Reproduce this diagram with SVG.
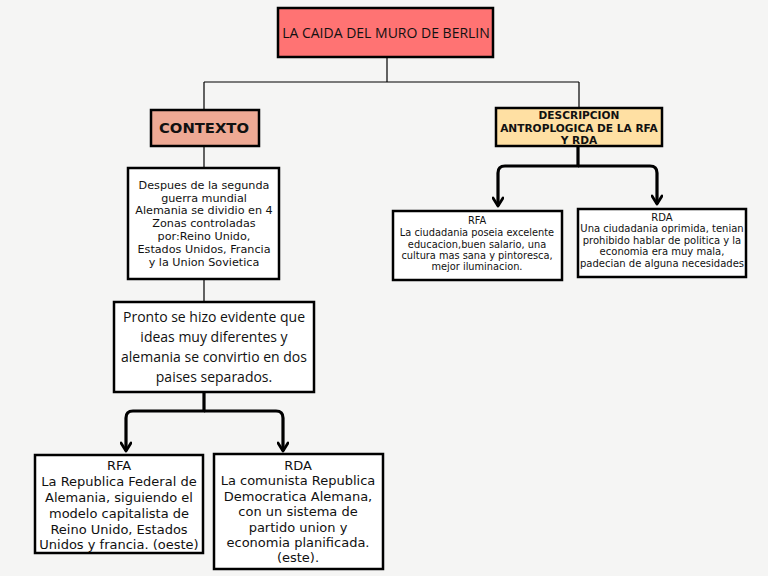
<svg xmlns="http://www.w3.org/2000/svg" width="768" height="576" viewBox="0 0 768 576">
<style>
.box{stroke:#000;stroke-width:2.5}
.thin{fill:none;stroke:#000;stroke-width:1.2}
.thick{fill:none;stroke:#000;stroke-width:3.2;stroke-linejoin:round}
.m{font-family:"DejaVu Sans","Liberation Sans",sans-serif;fill:#111;text-anchor:middle}
.o{font-family:"Open Sans","Liberation Sans",sans-serif;fill:#111;text-anchor:middle}
</style>
<defs>
<marker id="chev" viewBox="0 0 12 12" refX="10" refY="6" markerWidth="12" markerHeight="12" markerUnits="userSpaceOnUse" orient="auto">
<path d="M2,1 L10,6 L2,11" fill="none" stroke="#000" stroke-width="2.8" stroke-linecap="round" stroke-linejoin="round"/>
</marker>
</defs>
<rect width="768" height="576" fill="#f5f5f4"/>
<g id="connectors">
<path class="thin" d="M387,57 V82 M204,82 H579 M204,82 V109 M579,82 V107 M204,146 V168 M204,279 V302"/>
<path class="thick" d="M204,392 V411 H133 Q126,411 126,418 V451" marker-end="url(#chev)"/>
<path class="thick" d="M204,411 H276 Q283,411 283,418 V451" marker-end="url(#chev)"/>
<path class="thick" d="M578,146 V166 H505 Q498,166 498,173 V206" marker-end="url(#chev)"/>
<path class="thick" d="M578,166 H650 Q657,166 657,173 V204" marker-end="url(#chev)"/>
</g>
<g id="title">
<rect class="box" x="278" y="8" width="215" height="49" fill="#ff7373"/>
<text class="o" x="386" y="38" font-size="14">LA CAIDA DEL MURO DE BERLIN</text>
</g>
<g id="contexto">
<rect class="box" x="151" y="110" width="108" height="36" fill="#eea994"/>
<text class="m" x="204" y="133" font-size="14.8" font-weight="bold">CONTEXTO</text>
</g>
<g id="contexto-texto">
<rect class="box" x="128" y="168" width="151" height="111" fill="#fff"/>
<g class="m" font-size="11.2">
<text x="204" y="189">Despues de la segunda</text>
<text x="204" y="202">guerra mundial</text>
<text x="204" y="214">Alemania se dividio en 4</text>
<text x="204" y="227">Zonas controladas</text>
<text x="204" y="240">por:Reino Unido,</text>
<text x="204" y="253">Estados Unidos, Francia</text>
<text x="204" y="266">y la Union Sovietica</text>
</g>
</g>
<g id="pronto">
<rect class="box" x="114" y="302" width="200" height="90" fill="#fff"/>
<g class="o" font-size="14">
<text x="214" y="322">Pronto se hizo evidente que</text>
<text x="214" y="342">ideas muy diferentes y</text>
<text x="214" y="362">alemania se convirtio en dos</text>
<text x="214" y="382">paises separados.</text>
</g>
</g>
<g id="rfa-oeste">
<rect class="box" x="35" y="455" width="168" height="98" fill="#fff"/>
<g class="m" font-size="13">
<text x="119" y="470">RFA</text>
<text x="119" y="486">La Republica Federal de</text>
<text x="119" y="502">Alemania, siguiendo el</text>
<text x="119" y="518">modelo capitalista de</text>
<text x="119" y="534">Reino Unido, Estados</text>
<text x="119" y="549">Unidos  y francia. (oeste)</text>
</g>
</g>
<g id="rda-este">
<rect class="box" x="214" y="454" width="169" height="115" fill="#fff"/>
<g class="m" font-size="13">
<text x="298" y="470">RDA</text>
<text x="298" y="485">La comunista Republica</text>
<text x="298" y="501">Democratica Alemana,</text>
<text x="298" y="516">con un sistema de</text>
<text x="298" y="532">partido union y</text>
<text x="298" y="547">economia planificada.</text>
<text x="298" y="562">(este).</text>
</g>
</g>
<g id="descripcion">
<rect class="box" x="496" y="108" width="166" height="38" fill="#ffe0a3"/>
<g class="m" font-size="10.6" font-weight="bold">
<text x="579" y="119">DESCRIPCION</text>
<text x="579" y="132">ANTROPLOGICA DE LA RFA</text>
<text x="579" y="144">Y RDA</text>
</g>
</g>
<g id="rfa-desc">
<rect class="box" x="393" y="211" width="169" height="69" fill="#fff"/>
<g class="m" font-size="9.8">
<text x="477" y="224">RFA</text>
<text x="477" y="236">La ciudadania poseia excelente</text>
<text x="477" y="248">educacion,buen salario, una</text>
<text x="477" y="259">cultura mas sana y pintoresca,</text>
<text x="477" y="270">mejor iluminacion.</text>
</g>
</g>
<g id="rda-desc">
<rect class="box" x="578" y="209" width="168" height="68" fill="#fff"/>
<g class="m" font-size="10">
<text x="662" y="221">RDA</text>
<text x="662" y="232">Una ciudadania oprimida, tenian</text>
<text x="662" y="244">prohibido hablar de politica y la</text>
<text x="662" y="255">economia era muy mala,</text>
<text x="662" y="267">padecian de alguna necesidades</text>
</g>
</g>
</svg>
